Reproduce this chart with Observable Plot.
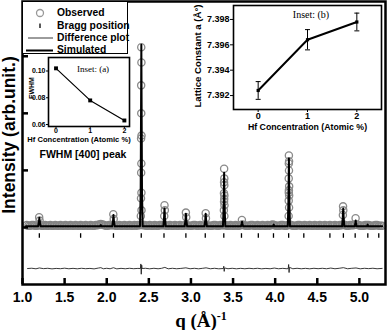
<!DOCTYPE html>
<html>
<head>
<meta charset="utf-8">
<script src="https://cdn.jsdelivr.net/npm/d3@7"></script>
<script src="https://cdn.jsdelivr.net/npm/@observablehq/plot@0.6"></script>
<style>
  html, body { margin: 0; padding: 0; background: white; }
  #wrap { position: relative; width: 387px; height: 330px; overflow: hidden; background: white; }
  .lbl { position: absolute; white-space: nowrap; line-height: 1; color: black; }
  .sans { font-family: "Liberation Sans", Arial, sans-serif; font-weight: bold; }
  .serif { font-family: "Liberation Serif", "Times New Roman", serif; }
</style>
</head>
<body>
<div id="wrap"></div>
<script>
// ---------------- DATA ----------------
const xTicks = [1.0, 1.5, 2.0, 2.5, 3.0, 3.5, 4.0, 4.5, 5.0];
const yTicks = [0, 1, 2, 3];

// simulated profile [q, intensity]
const simulated = [
  [1.04,0.02],[1.185,0.02],[1.195,0.10],[1.200,0.17],[1.205,0.10],[1.215,0.02],
  [1.92,0.02],[1.93,0.04],[1.94,0.02],
  [2.065,0.02],[2.075,0.12],[2.080,0.22],[2.085,0.12],[2.095,0.02],
  [2.395,0.02],[2.403,0.60],[2.408,2.20],[2.411,3.20],[2.414,2.20],[2.419,0.60],[2.427,0.02],
  [2.672,0.02],[2.681,0.18],[2.686,0.33],[2.691,0.18],[2.700,0.02],
  [2.925,0.02],[2.935,0.13],[2.940,0.24],[2.945,0.13],[2.955,0.02],
  [3.160,0.02],[3.170,0.13],[3.175,0.24],[3.180,0.13],[3.190,0.02],
  [3.380,0.02],[3.389,0.40],[3.394,0.96],[3.399,0.40],[3.408,0.02],
  [3.595,0.02],[3.603,0.07],[3.607,0.10],[3.611,0.07],[3.619,0.02],
  [3.975,0.02],[3.983,0.05],[3.991,0.02],
  [4.150,0.02],[4.158,0.50],[4.163,1.21],[4.168,0.50],[4.176,0.02],
  [4.795,0.02],[4.803,0.18],[4.808,0.33],[4.813,0.18],[4.821,0.02],
  [4.945,0.02],[4.952,0.08],[4.956,0.12],[4.960,0.08],[4.967,0.02],
  [5.092,0.02],[5.098,0.05],[5.104,0.02],
  [5.27,0.02]
];

// observed points along the background [q, intensity]
const observedBackground = [
  [1.05,.04],[1.07,.03],[1.09,.03],[1.11,.04],[1.13,.04],[1.15,.03],[1.17,.03],[1.19,.04],[1.21,.04],[1.23,.03],
  [1.25,.03],[1.27,.04],[1.29,.03],[1.31,.03],[1.33,.04],[1.35,.03],[1.37,.03],[1.39,.04],[1.41,.03],[1.43,.03],
  [1.45,.04],[1.47,.03],[1.49,.03],[1.51,.04],[1.53,.03],[1.55,.03],[1.57,.04],[1.59,.03],[1.61,.03],[1.63,.04],
  [1.65,.03],[1.67,.03],[1.69,.04],[1.71,.03],[1.73,.03],[1.75,.04],[1.77,.03],[1.79,.03],[1.81,.04],[1.83,.03],
  [1.85,.03],[1.87,.04],[1.89,.04],[1.91,.05],[1.93,.06],[1.95,.05],[1.97,.04],[1.99,.03],[2.01,.03],[2.03,.04],
  [2.05,.04],[2.07,.04],[2.09,.04],[2.11,.03],[2.13,.03],[2.15,.04],[2.17,.03],[2.19,.03],[2.21,.04],[2.23,.03],
  [2.25,.03],[2.27,.04],[2.29,.03],[2.31,.03],[2.33,.04],[2.35,.03],[2.37,.04],[2.39,.04],[2.41,.05],[2.43,.04],
  [2.45,.04],[2.47,.03],[2.49,.03],[2.51,.04],[2.53,.03],[2.55,.03],[2.57,.04],[2.59,.03],[2.61,.03],[2.63,.04],
  [2.65,.04],[2.67,.04],[2.69,.04],[2.71,.03],[2.73,.03],[2.75,.04],[2.77,.03],[2.79,.03],[2.81,.04],[2.83,.03],
  [2.85,.03],[2.87,.04],[2.89,.03],[2.91,.03],[2.93,.04],[2.95,.04],[2.97,.03],[2.99,.03],[3.01,.03],[3.03,.04],
  [3.05,.04],[3.07,.03],[3.09,.03],[3.11,.04],[3.13,.03],[3.15,.03],[3.17,.04],[3.19,.04],[3.21,.03],[3.23,.03],
  [3.25,.03],[3.27,.04],[3.29,.04],[3.31,.03],[3.33,.03],[3.35,.04],[3.37,.04],[3.39,.04],[3.41,.04],[3.43,.03],
  [3.45,.03],[3.47,.04],[3.49,.03],[3.51,.03],[3.53,.04],[3.55,.03],[3.57,.03],[3.59,.04],[3.61,.05],[3.63,.04],
  [3.65,.03],[3.67,.03],[3.69,.03],[3.71,.04],[3.73,.04],[3.75,.03],[3.77,.03],[3.79,.04],[3.81,.03],[3.83,.03],
  [3.85,.04],[3.87,.03],[3.89,.03],[3.91,.04],[3.93,.03],[3.95,.04],[3.97,.05],[3.99,.04],[4.01,.03],[4.03,.03],
  [4.05,.03],[4.07,.04],[4.09,.04],[4.11,.03],[4.13,.03],[4.15,.04],[4.17,.05],[4.19,.04],[4.21,.03],[4.23,.03],
  [4.25,.03],[4.27,.04],[4.29,.04],[4.31,.03],[4.33,.03],[4.35,.04],[4.37,.03],[4.39,.03],[4.41,.04],[4.43,.03],
  [4.45,.03],[4.47,.04],[4.49,.03],[4.51,.03],[4.53,.04],[4.55,.03],[4.57,.03],[4.59,.04],[4.61,.03],[4.63,.03],
  [4.65,.04],[4.67,.03],[4.69,.03],[4.71,.04],[4.73,.03],[4.75,.03],[4.77,.04],[4.79,.04],[4.81,.05],[4.83,.04],
  [4.85,.03],[4.87,.03],[4.89,.04],[4.91,.04],[4.93,.04],[4.95,.05],[4.97,.05],[4.99,.04],[5.01,.03],[5.03,.03],
  [5.05,.03],[5.07,.04],[5.09,.04],[5.11,.04],[5.13,.03],[5.15,.03],[5.17,.03],[5.19,.04],[5.21,.04],[5.23,.03],
  [5.25,.03],[5.27,.03]
];

// observed points on the peaks [q, intensity]
const observedPeaks = [
  [1.198,0.18],[1.203,0.12],
  [2.078,0.23],[2.083,0.15],
  [2.410,3.16],[2.412,2.89],[2.409,2.49],[2.410,2.00],[2.413,1.61],[2.408,1.56],[2.411,1.12],[2.409,0.96],
  [2.412,0.61],[2.407,0.51],[2.413,0.30],[2.405,0.20],
  [2.686,0.39],[2.690,0.30],[2.683,0.20],
  [2.940,0.26],[2.944,0.18],
  [3.175,0.25],[3.178,0.16],
  [3.394,1.03],[3.396,0.86],[3.393,0.79],[3.396,0.74],[3.392,0.60],[3.397,0.56],[3.395,0.50],[3.393,0.45],
  [3.398,0.39],[3.391,0.30],[3.397,0.20],
  [3.605,0.13],
  [4.163,1.26],[4.165,1.16],[4.162,1.12],[4.164,1.00],[4.161,0.86],[4.166,0.72],[4.163,0.65],[4.162,0.61],
  [4.166,0.56],[4.161,0.47],[4.165,0.35],[4.160,0.20],
  [4.806,0.37],[4.809,0.30],[4.804,0.22],
  [4.955,0.16]
];

// difference (observed - simulated), offset level [q, intensity]
const difference = [
  [1.06,-0.72],[1.11,-0.715],[1.16,-0.725],[1.20,-0.71],[1.25,-0.722],[1.30,-0.716],[1.35,-0.726],[1.40,-0.718],
  [1.45,-0.723],[1.50,-0.714],[1.55,-0.724],[1.60,-0.717],[1.65,-0.725],[1.70,-0.716],[1.75,-0.723],[1.80,-0.718],
  [1.85,-0.726],[1.90,-0.712],[1.93,-0.705],[1.96,-0.724],[2.00,-0.716],[2.04,-0.724],[2.08,-0.706],[2.12,-0.726],
  [2.17,-0.717],[2.22,-0.724],[2.27,-0.716],[2.32,-0.723],[2.37,-0.718],[2.400,-0.72],[2.405,-0.64],[2.410,-0.82],
  [2.415,-0.66],[2.420,-0.72],[2.46,-0.716],[2.51,-0.725],[2.56,-0.716],[2.61,-0.724],[2.65,-0.717],[2.69,-0.700],
  [2.73,-0.725],[2.78,-0.716],[2.83,-0.724],[2.88,-0.718],[2.94,-0.708],[2.99,-0.724],[3.04,-0.716],[3.09,-0.725],
  [3.14,-0.716],[3.18,-0.708],[3.23,-0.724],[3.28,-0.716],[3.33,-0.725],[3.385,-0.72],[3.390,-0.68],[3.395,-0.77],
  [3.400,-0.71],[3.44,-0.724],[3.49,-0.716],[3.54,-0.725],[3.59,-0.717],[3.64,-0.724],[3.69,-0.716],[3.74,-0.723],
  [3.79,-0.716],[3.84,-0.725],[3.89,-0.718],[3.94,-0.724],[3.99,-0.712],[4.04,-0.724],[4.09,-0.717],[4.14,-0.724],
  [4.155,-0.72],[4.160,-0.65],[4.165,-0.79],[4.170,-0.70],[4.21,-0.724],[4.26,-0.716],[4.31,-0.724],[4.36,-0.717],
  [4.41,-0.725],[4.46,-0.716],[4.51,-0.723],[4.56,-0.716],[4.61,-0.724],[4.66,-0.712],[4.71,-0.724],[4.76,-0.716],
  [4.81,-0.705],[4.86,-0.724],[4.91,-0.716],[4.96,-0.710],[5.01,-0.725],[5.06,-0.716],[5.11,-0.722],[5.16,-0.715],
  [5.21,-0.724],[5.27,-0.718]
];

const braggQ = [1.20,1.69,2.08,2.41,2.68,2.94,3.17,3.39,3.60,3.80,3.98,4.16,4.34,4.65,4.81,4.95,5.10,5.23];
const braggLevelTop = -0.11;
const braggLevelBottom = -0.19;

// inset (a): FWHM of [400] peak
const concentration = [0, 1, 2];
const fwhm = [0.102, 0.078, 0.063];
const fwhmTicks = [0.06, 0.08, 0.10];

// inset (b): lattice constant
const lattice = [7.3924, 7.3964, 7.3978];
const latticeErr = [0.0007, 0.0008, 0.0007];
const latticeTicks = [7.392, 7.394, 7.396, 7.398];

// ---------------- DRAW ----------------
const wrap = document.getElementById("wrap");
const SANS = "'Liberation Sans', Arial, sans-serif";

const W = 387, H = 330, mL = 22, mR = 2, mT = 1, mB = 46;
const innerW = W - mL - mR, innerH = H - mT - mB;

const main = Plot.plot({
  width: W, height: H,
  marginLeft: mL, marginRight: mR, marginTop: mT, marginBottom: mB,
  x: {domain: [1.0, 5.31], ticks: xTicks, tickSize: 0, tickPadding: 8, tickFormat: d => d.toFixed(1), label: null},
  y: {domain: [-1.0, 3.96], axis: null},
  style: `font-family: ${SANS}; font-weight: bold; font-size: 14px; background: white; color: black;`,
  marks: [
    Plot.dot(observedBackground, {x: d => d[0], y: d => d[1], r: 3.6, stroke: "#858585", strokeWidth: 1.4, fill: "none"}),
    Plot.dot(observedPeaks, {x: d => d[0], y: d => d[1], r: 3.6, stroke: "#8a8a8a", strokeWidth: 1.3, fill: "none"}),
    Plot.line(simulated, {x: d => d[0], y: d => d[1], stroke: "black", strokeWidth: 2}),
    Plot.ruleX(braggQ, {x: d => d, y1: () => braggLevelTop, y2: () => braggLevelBottom, stroke: "black", strokeWidth: 1.3}),
    Plot.line(difference, {x: d => d[0], y: d => d[1], stroke: "#222", strokeWidth: 0.9}),
    Plot.tickX(xTicks, {x: d => d, insetTop: innerH - 6, stroke: "black", strokeWidth: 2.5}),
    Plot.tickY(yTicks, {y: d => d, insetRight: innerW - 6, stroke: "black", strokeWidth: 2.5}),
    Plot.frame({stroke: "black", strokeWidth: 2.5})
  ]
});
wrap.appendChild(main);

function place(el, left, top) {
  el.style.position = "absolute";
  el.style.left = left + "px";
  el.style.top = top + "px";
  wrap.appendChild(el);
}

// custom cap symbol for error bars
const capSymbol = {draw(ctx) { ctx.moveTo(-2.5, 0); ctx.lineTo(2.5, 0); }};

// inset (b)
const insetB = Plot.plot({
  width: 200, height: 135,
  marginLeft: 48, marginRight: 4, marginTop: 5, marginBottom: 26,
  x: {domain: [-0.5, 2.5], ticks: concentration, tickSize: 3, tickPadding: 0, tickFormat: d => String(d), label: null},
  y: {domain: [7.3909, 7.3991], ticks: latticeTicks, tickSize: 3, tickPadding: 1, tickFormat: d => d.toFixed(3), label: null},
  style: `font-family: ${SANS}; font-weight: bold; font-size: 9px; background: transparent; overflow: visible; color: black;`,
  marks: [
    Plot.frame({fill: "white"}),
    Plot.ruleX(concentration, {x: d => d, y1: (d, i) => lattice[i] - latticeErr[i], y2: (d, i) => lattice[i] + latticeErr[i], stroke: "black", strokeWidth: 1}),
    Plot.dot(concentration, {x: d => d, y: (d, i) => lattice[i] - latticeErr[i], symbol: capSymbol, stroke: "black", strokeWidth: 1, fill: "none"}),
    Plot.dot(concentration, {x: d => d, y: (d, i) => lattice[i] + latticeErr[i], symbol: capSymbol, stroke: "black", strokeWidth: 1, fill: "none"}),
    Plot.line(concentration, {x: d => d, y: (d, i) => lattice[i], stroke: "black", strokeWidth: 2}),
    Plot.dot(concentration, {x: d => d, y: (d, i) => lattice[i], symbol: "square", r: 1.8, fill: "black"}),
    Plot.frame({stroke: "black", strokeWidth: 1.6})
  ]
});
place(insetB, 185, 0);

// inset (a)
const insetA = Plot.plot({
  width: 110, height: 90,
  marginLeft: 23, marginRight: 6, marginTop: 7, marginBottom: 14,
  x: {domain: [-0.22, 2.15], ticks: concentration, tickSize: 2, tickPadding: 0, tickFormat: d => String(d), label: null},
  y: {domain: [0.0585, 0.1101], ticks: fwhmTicks, tickSize: 2, tickPadding: 1, tickFormat: d => d.toFixed(2), label: null},
  style: `font-family: ${SANS}; font-weight: bold; font-size: 7px; background: transparent; overflow: visible; color: black;`,
  marks: [
    Plot.frame({fill: "white"}),
    Plot.line(concentration, {x: d => d, y: (d, i) => fwhm[i], stroke: "black", strokeWidth: 1.2}),
    Plot.dot(concentration, {x: d => d, y: (d, i) => fwhm[i], symbol: "square", r: 2.2, fill: "black"}),
    Plot.frame({stroke: "black", strokeWidth: 1.6})
  ]
});
place(insetA, 25, 50);

// text labels (centered at x,y)
function label(html, x, y, {size = 10, cls = "sans", rotate = 0, weight = null} = {}) {
  const d = document.createElement("div");
  d.className = "lbl " + cls;
  d.innerHTML = html;
  d.style.fontSize = size + "px";
  if (weight) d.style.fontWeight = weight;
  d.style.left = x + "px";
  d.style.top = y + "px";
  d.style.transform = `translate(-50%, -50%)` + (rotate ? ` rotate(${rotate}deg)` : "");
  wrap.appendChild(d);
  return d;
}

label("Intensity (arb.unit.)", 10, 135, {size: 17.5, rotate: -90});
label("q (Å)<sup style=\"font-size:12px;vertical-align:7px;\">-1</sup>", 201, 320, {size: 19, cls: "serif", weight: "bold"});

label("Inset: (a)", 93, 69, {size: 9, cls: "serif", weight: "normal"});
label("FWHM", 31, 88, {size: 7, rotate: -90});
label("Hf Concentration (Atomic %)", 79, 139.5, {size: 7.6});
label("FWHM [400] peak", 83, 153.5, {size: 10.5});

label("Inset: (b)", 311, 15, {size: 10, cls: "serif", weight: "normal"});
label("Lattice Constant a (Å°)", 198, 56, {size: 9.6, rotate: -90});
label("Hf Concentration (Atomic %)", 307.5, 126.5, {size: 8.75});

// legend
const legend = document.createElement("div");
legend.style.cssText = "position:absolute;left:22px;top:1px;width:106px;height:53px;box-sizing:border-box;border:1px solid black;background:white;";
wrap.appendChild(legend);
const ns = "http://www.w3.org/2000/svg";
const lsvg = document.createElementNS(ns, "svg");
lsvg.setAttribute("width", 106); lsvg.setAttribute("height", 53);
lsvg.style.cssText = "position:absolute;left:-1px;top:-1px;";
lsvg.innerHTML = `
  <circle cx="18" cy="12" r="3.5" fill="none" stroke="#999" stroke-width="1.3"/>
  <line x1="18" x2="18" y1="22.5" y2="27" stroke="black" stroke-width="1.3"/>
  <line x1="6" x2="31" y1="37" y2="37" stroke="#222" stroke-width="0.9"/>
  <line x1="4" x2="31" y1="49.5" y2="49.5" stroke="black" stroke-width="2"/>`;
legend.appendChild(lsvg);
[["Observed", 12], ["Bragg position", 24.5], ["Difference plot", 37], ["Simulated", 49]].forEach(([t, y]) => {
  const d = document.createElement("div");
  d.className = "lbl sans";
  d.textContent = t;
  d.style.fontSize = "10.3px";
  d.style.left = "34px";
  d.style.top = (y - 1) + "px";
  d.style.transform = "translateY(-50%)";
  legend.appendChild(d);
});
</script>
</body>
</html>
